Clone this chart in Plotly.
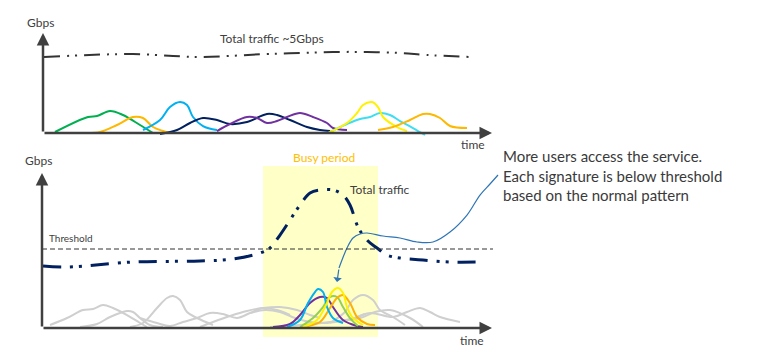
import plotly.graph_objects as go

# ---------------- data (time units, Gbps units; schematic) ----------------
# Top panel: normal day
top_total_t = [1, 90, 130, 157, 224, 257, 290, 324, 357, 384, 427]
top_total_v = [76, 79, 77, 76, 79, 80, 81, 81, 80, 78, 76]

top_sig = {
    "green":   ([12, 45, 54, 67, 80, 97, 110], [1, 16, 17, 22, 18, 8, 0], "#00B050"),
    "orange1": ([44, 57, 74, 90, 100, 110, 120, 127], [0, 1, 8, 16, 15, 6, 2, 0], "#FFB800"),
    "blue":    ([100, 117, 127, 137, 144, 150, 160, 174], [3, 13, 26, 31, 28, 16, 7, 3], "#00B0F0"),
    "navy":    ([117, 134, 147, 160, 174, 187, 204, 224, 234, 247, 264, 277, 287],
                [-1, 3, 10, 15, 13, 9, 11, 19, 18, 13, 6, 3, 2], "#002060"),
    "purple":  ([174, 187, 204, 214, 224, 234, 244, 257, 270, 284, 290, 304],
                [2, 9, 16, 15, 10, 12, 16, 20, 16, 10, 5, 3], "#7030A0"),
    "cyan":    ([287, 304, 317, 327, 337, 347, 357, 370, 382], [1, 9, 14, 16, 20, 18, 12, 5, -2], "#3FDDF2"),
    "yellow":  ([285, 304, 314, 320, 329, 335, 340, 354, 364], [0, 10, 20, 28, 31, 26, 16, 6, 2], "#FFF200"),
    "orange2": ([335, 350, 367, 380, 387, 397, 407, 424], [3, 6, 13, 19, 19, 15, 7, 5], "#FFB800"),
}

# Bottom panel: busy period
bot_total_t = [1, 25, 91, 158, 191, 218, 228, 238, 248, 258, 268, 278, 291, 301, 308, 316,
               325, 335, 345, 358, 381, 408, 435]
bot_total_v = [62, 61, 66, 67, 69, 75, 80, 93, 108, 123, 135, 138, 138, 133, 123, 101,
               88, 80, 73, 70, 68, 66, 66]
threshold = 79
busy_start, busy_end = 221, 336

gray_sig = [
    ([8, 25, 41, 51, 61, 71, 85, 98, 105], [3, 10, 18, 19, 23, 20, 13, 5, 1]),
    ([38, 55, 68, 85, 91, 98, 108, 121], [1, 4, 11, 17, 16, 10, 3, 1]),
    ([88, 101, 115, 125, 131, 138, 145, 155, 171], [1, 5, 20, 30, 32, 28, 16, 10, 3]),
    ([98, 115, 128, 141, 155, 168, 181, 195, 208, 221, 235, 248], [10, 5, 2, 6, 10, 15, 14, 10, 15, 20, 18, 13]),
    ([158, 171, 188, 205, 221, 238, 255, 268, 278], [1, 6, 12, 17, 20, 21, 18, 13, 10]),
    ([208, 223, 238, 253, 268, 283, 298, 313, 323], [15, 18, 16, 10, 6, 5, 7, 10, 14]),
    ([228, 258, 288, 318, 333, 348, 368, 381], [1, 3, 6, 10, 16, 18, 10, 1]),
    ([288, 303, 311, 321, 331, 338, 351, 363], [5, 16, 28, 33, 28, 18, 11, 3]),
    ([313, 328, 351, 365, 378, 388, 398, 418], [10, 15, 11, 16, 20, 16, 11, 6]),
]

bot_sig = {
    "purple": ([231, 248, 258, 268, 278, 285, 291, 301, 315, 321], [1, 4, 13, 25, 31, 30, 21, 8, 2, 1], "#7030A0"),
    "green":  ([258, 271, 281, 288, 295, 301, 308, 316], [1, 10, 21, 31, 31, 21, 10, 2], "#92D050"),
    "orange": ([260, 278, 288, 295, 301, 308, 315, 325, 333], [1, 6, 20, 30, 33, 25, 11, 4, 3], "#FFB000"),
    "blue":   ([245, 258, 266, 273, 276, 281, 285, 291, 301], [1, 8, 25, 36, 39, 36, 21, 10, 5], "#00B0F0"),
    "yellow": ([261, 275, 285, 290, 296, 301, 305, 311, 321], [1, 8, 25, 36, 40, 35, 21, 10, 3], "#FFF200"),
}

callout_t = [456, 448, 438, 425, 408, 391, 375, 358, 341, 325, 318, 311, 305, 300, 297]
callout_v = [153, 144, 133, 113, 96, 86, 86, 90, 92, 95, 94, 90, 80, 68, 60]

top_axis_tip = (449, 100)
bot_axis_tip = (450, 155)

FONT = "Lato"
TXT = "#404040"

fig = go.Figure()

# ---- top panel ----
for name, (t, v, c) in top_sig.items():
    fig.add_trace(go.Scatter(x=t, y=v, mode="lines", line=dict(color=c, width=2, shape="spline"),
                             xaxis="x", yaxis="y", hoverinfo="skip"))
fig.add_trace(go.Scatter(x=top_total_t, y=top_total_v, mode="lines",
                         line=dict(color="#333333", width=2, shape="spline",
                                   dash="16px,7px,2px,6px,2px,7px"),
                         xaxis="x", yaxis="y", hoverinfo="skip"))

# ---- bottom panel ----
for t, v in gray_sig:
    fig.add_trace(go.Scatter(x=t, y=v, mode="lines", line=dict(color="#CFCFCF", width=2, shape="spline"),
                             xaxis="x2", yaxis="y2", hoverinfo="skip"))
for name, (t, v, c) in bot_sig.items():
    fig.add_trace(go.Scatter(x=t, y=v, mode="lines", line=dict(color=c, width=2, shape="spline"),
                             xaxis="x2", yaxis="y2", hoverinfo="skip"))
fig.add_trace(go.Scatter(x=bot_total_t, y=bot_total_v, mode="lines",
                         line=dict(color="#002060", width=3, shape="spline",
                                   dash="18px,9px,3px,6px,3px,9px"),
                         xaxis="x2", yaxis="y2", hoverinfo="skip"))
fig.add_trace(go.Scatter(x=callout_t, y=callout_v, mode="lines",
                         line=dict(color="#2E75B6", width=1.2, shape="spline"),
                         xaxis="x2", yaxis="y2", hoverinfo="skip"))

shapes = [
    dict(type="rect", xref="x2", yref="y2", x0=busy_start, x1=busy_end, y0=-9, y1=162,
         fillcolor="#FFFFC8", line=dict(width=0), layer="below"),
    dict(type="line", xref="x2", yref="y2", x0=0, x1=451, y0=threshold, y1=threshold,
         line=dict(color="#333333", width=1, dash="5px,3px")),
]

def axis_arrow(xr, yr, tip):
    return [
        dict(x=tip[0], y=0, ax=0, ay=0, xref=xr, yref=yr, axref=xr, ayref=yr, text="",
             showarrow=True, arrowhead=2, arrowsize=1, arrowwidth=2.5, arrowcolor="#404040", standoff=0),
        dict(x=0, y=tip[1], ax=0, ay=0, xref=xr, yref=yr, axref=xr, ayref=yr, text="",
             showarrow=True, arrowhead=2, arrowsize=1, arrowwidth=2.5, arrowcolor="#404040", standoff=0),
    ]

ann = []
ann += axis_arrow("x", "y", top_axis_tip)
ann += axis_arrow("x2", "y2", bot_axis_tip)

def label(x, y, text, xr, yr, size=12, color=TXT, xanchor="center"):
    return dict(x=x, y=y, xref=xr, yref=yr, text=text, showarrow=False, xanchor=xanchor,
                yanchor="middle", font=dict(family=FONT, size=size, color=color))

ann += [
    label(-3, 111, "Gbps", "x", "y", 12),
    label(229, 95, "Total traffic ~5Gbps", "x", "y", 12),
    label(430, -11, "time", "x", "y", 12),
    label(-4, 168, "Gbps", "x2", "y2", 12),
    label(430, -12, "time", "x2", "y2", 12),
    label(5, 90, "Threshold", "x2", "y2", 10, xanchor="left"),
    label(282, 171, "Busy period", "x2", "y2", 12, color="#FFC000"),
    label(306, 139, "Total traffic", "x2", "y2", 12, xanchor="left"),
    dict(x=459, y=153, xref="x2", yref="y2", showarrow=False, xanchor="left", yanchor="middle",
         align="left", text="More users access the service.<br>Each signature is below threshold<br>based on the normal pattern",
         font=dict(family=FONT, size=15, color="#3A3A3A")),
    dict(x=295, y=46, ax=297, ay=60, xref="x2", yref="y2", axref="x2", ayref="y2", text="",
         showarrow=True, arrowhead=1, arrowsize=1.2, arrowwidth=1.2, arrowcolor="#2E75B6", standoff=0),
]

# the page adds an 8px body margin; axis ranges are offset so the drawing lands where the reference has it
hidden = dict(showgrid=False, zeroline=False, showticklabels=False, showline=False, fixedrange=True)
fig.update_layout(
    width=768, height=356, margin=dict(l=0, r=0, t=0, b=0),
    paper_bgcolor="white", plot_bgcolor="white", showlegend=False,
    xaxis=dict(domain=[0, 1], range=[-35, 733], anchor="y", **hidden),
    yaxis=dict(domain=[0.6067, 1], range=[-15, 125], anchor="x", **hidden),
    xaxis2=dict(domain=[0, 1], range=[-34, 734], anchor="y2", **hidden),
    yaxis2=dict(domain=[0, 0.6067], range=[-36, 180], anchor="x2", **hidden),
    shapes=shapes, annotations=ann,
)

fig.write_html("out.html")
